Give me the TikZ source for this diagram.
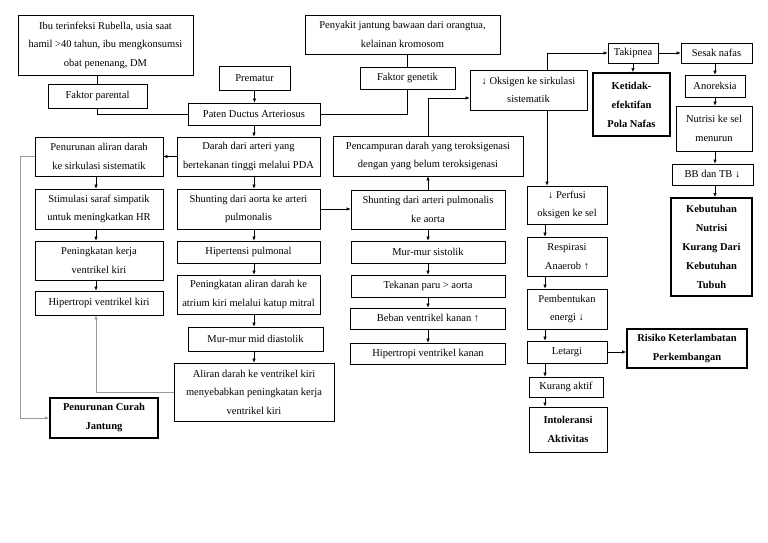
\documentclass[tikz,border=0pt]{standalone}
\usepackage{fontspec}
\setmainfont{Liberation Serif}
\usetikzlibrary{arrows.meta,calc}
\begin{document}
\begin{tikzpicture}[x=1pt,y=-1pt,
 bx/.style={draw, line width=0.7pt, align=center, inner sep=1pt, font=\fontsize{10.5}{18.5}\selectfont},
 tbx/.style={bx, line width=1.8pt, font=\bfseries\fontsize{10.5}{19}\selectfont},
 ln/.style={line width=0.6pt},
 arr/.style={ln, -{Latex[length=4pt,width=3.5pt]}},
 garr/.style={arr, draw=gray!80}]
\useasboundingbox (0,0) rectangle (768,543);
% top-left
\node[bx, minimum width=175pt, minimum height=60pt] (ibu) at (105.5,45) {Ibu terinfeksi Rubella, usia saat\\hamil >40 tahun, ibu mengkonsumsi\\obat penenang, DM};
\node[bx, minimum width=99pt, minimum height=24pt] (fpar) at (97.5,96) {Faktor parental};
\node[bx, minimum width=71pt, minimum height=24pt] (prem) at (254.5,78) {Prematur};
\node[bx, minimum width=132pt, minimum height=22pt] (pda) at (254,114) {Paten Ductus Arteriosus};
\node[bx, minimum width=195pt, minimum height=39pt] (peny) at (402.5,34.5) {Penyakit jantung bawaan dari orangtua,\\kelainan kromosom};
\node[bx, minimum width=95pt, minimum height=22pt] (fgen) at (407.5,78) {Faktor genetik};
% top-right
\node[bx, minimum width=117pt, minimum height=40pt] (oks) at (528.5,90) {↓ Oksigen ke sirkulasi\\sistematik};
\node[bx, minimum width=50pt, minimum height=20pt] (tak) at (633,53) {Takipnea};
\node[bx, minimum width=71pt, minimum height=20pt] (sesak) at (716.5,53) {Sesak nafas};
\node[tbx, minimum width=77pt, minimum height=63pt] (ketid) at (631.5,104.5) {Ketidak-\\efektifan\\Pola Nafas};
\node[bx, minimum width=60pt, minimum height=22pt] (anor) at (715,86) {Anoreksia};
\node[bx, minimum width=76pt, minimum height=45pt] (nutr) at (714,128.5) {Nutrisi ke sel\\menurun};
\node[bx, minimum width=81pt, minimum height=21pt] (bb) at (712.5,174.5) {BB dan TB ↓};
\node[tbx, minimum width=81pt, minimum height=98pt] (kebut) at (711.5,247) {Kebutuhan\\Nutrisi\\Kurang Dari\\Kebutuhan\\Tubuh};
% left column
\node[bx, minimum width=128pt, minimum height=39pt] (pen1) at (99,156.5) {Penurunan aliran darah\\ke sirkulasi sistematik};
\node[bx, minimum width=128pt, minimum height=40pt] (stim) at (99,209) {Stimulasi saraf simpatik\\untuk meningkatkan HR};
\node[bx, minimum width=128pt, minimum height=39pt] (pkerja) at (99,260.5) {Peningkatan kerja\\ventrikel kiri};
\node[bx, minimum width=128pt, minimum height=24pt] (hipki) at (99,303) {Hipertropi ventrikel kiri};
\node[tbx, minimum width=108pt, minimum height=40pt] (pcj) at (104,418) {Penurunan Curah\\Jantung};
% mid-left column
\node[bx, minimum width=143pt, minimum height=39pt] (darah) at (248.5,156.5) {Darah dari arteri yang\\bertekanan tinggi melalui PDA};
\node[bx, minimum width=143pt, minimum height=40pt] (shA) at (248.5,209) {Shunting dari aorta ke arteri\\pulmonalis};
\node[bx, minimum width=143pt, minimum height=22pt] (hipul) at (248.5,252) {Hipertensi pulmonal};
\node[bx, minimum width=143pt, minimum height=39pt] (penal) at (248.5,294.5) {Peningkatan aliran darah ke\\atrium kiri melalui katup mitral};
\node[bx, minimum width=135pt, minimum height=24pt] (murmid) at (255.5,339) {Mur-mur mid diastolik};
\node[bx, minimum width=160pt, minimum height=58pt] (aliran) at (254,392) {Aliran darah ke ventrikel kiri\\menyebabkan peningkatan kerja\\ventrikel kiri};
% mid-right column
\node[bx, minimum width=190pt, minimum height=40pt] (penc) at (428,156) {Pencampuran darah yang teroksigenasi\\dengan yang belum teroksigenasi};
\node[bx, minimum width=154pt, minimum height=39pt] (shP) at (428,209.5) {Shunting dari arteri pulmonalis\\ke aorta};
\node[bx, minimum width=154pt, minimum height=22pt] (murs) at (428,252) {Mur-mur sistolik};
\node[bx, minimum width=154pt, minimum height=22pt] (tek) at (428,286) {Tekanan paru > aorta};
\node[bx, minimum width=155pt, minimum height=21pt] (beban) at (428,318.5) {Beban ventrikel kanan ↑};
\node[bx, minimum width=155pt, minimum height=21pt] (hipka) at (428,353.5) {Hipertropi ventrikel kanan};
% right column
\node[bx, minimum width=80pt, minimum height=38pt] (perf) at (567,205) {↓ Perfusi\\oksigen ke sel};
\node[bx, minimum width=80pt, minimum height=39pt] (resp) at (567,256.5) {Respirasi\\Anaerob ↑};
\node[bx, minimum width=80pt, minimum height=40pt] (pemb) at (567,309) {Pembentukan\\energi ↓};
\node[bx, minimum width=80pt, minimum height=22pt] (let) at (567,352) {Letargi};
\node[bx, minimum width=74pt, minimum height=20pt] (kur) at (566,387) {Kurang aktif};
\node[tbx, line width=1pt, minimum width=78pt, minimum height=45pt] (intol) at (568,429.5) {Intoleransi\\Aktivitas};
\node[tbx, minimum width=120pt, minimum height=39pt] (risk) at (687,348.5) {Risiko Keterlambatan\\Perkembangan};
% helper coordinates
\coordinate (lft) at (20,0);
\coordinate (lc) at (96,0);
\coordinate (ox) at (547,0);
\coordinate (cx) at (545,0);
\coordinate (rx) at (715,0);
% connectors
\draw[ln] (fpar.north) -- (fpar.north |- ibu.south);
\draw[ln] (fpar.south) |- (pda.west);
\draw[arr] (prem.south) -- (pda.north -| prem);
\draw[ln] (fgen.north) -- (fgen.north |- peny.south);
\draw[ln] (fgen.south) |- (pda.east);
\draw[arr] (pda.south) -- (darah.north -| pda);
\draw[arr] (darah.west) -- (pen1.east |- darah.west);
\foreach \a/\b in {darah/shA, shA/hipul, hipul/penal, penal/murmid, murmid/aliran}
  \draw[arr] (\a.south -| pda) -- (\b.north -| pda);
\draw[arr] (shA.east) -- (shP.west |- shA.east);
\foreach \a/\b in {pen1/stim, stim/pkerja, pkerja/hipki}
  \draw[arr] (\a.south -| lc) -- (\b.north -| lc);
\draw[garr] (pen1.west) -- (pen1.west -| lft) |- (pcj.west);
\draw[garr] (aliran.west) -| (hipki.south -| lc);
\draw[arr] (shP.north) -- (penc.south);
\foreach \a/\b in {shP/murs, murs/tek, tek/beban, beban/hipka}
  \draw[arr] (\a.south) -- (\b.north);
\draw[arr] (penc.north) |- ($(oks.west)+(0,8)$);
\draw[arr] (oks.north -| ox) |- (tak.west);
\draw[arr] (oks.south -| ox) -- (perf.north -| ox);
\draw[arr] (tak.east) -- (sesak.west);
\draw[arr] (tak.south) -- (ketid.north -| tak);
\foreach \a/\b in {sesak/anor, anor/nutr, nutr/bb, bb/kebut}
  \draw[arr] (\a.south -| rx) -- (\b.north -| rx);
\foreach \a/\b in {perf/resp, resp/pemb, pemb/let, let/kur, kur/intol}
  \draw[arr] (\a.south -| cx) -- (\b.north -| cx);
\draw[arr] (let.east) -- (risk.west |- let.east);
\end{tikzpicture}
\end{document}
